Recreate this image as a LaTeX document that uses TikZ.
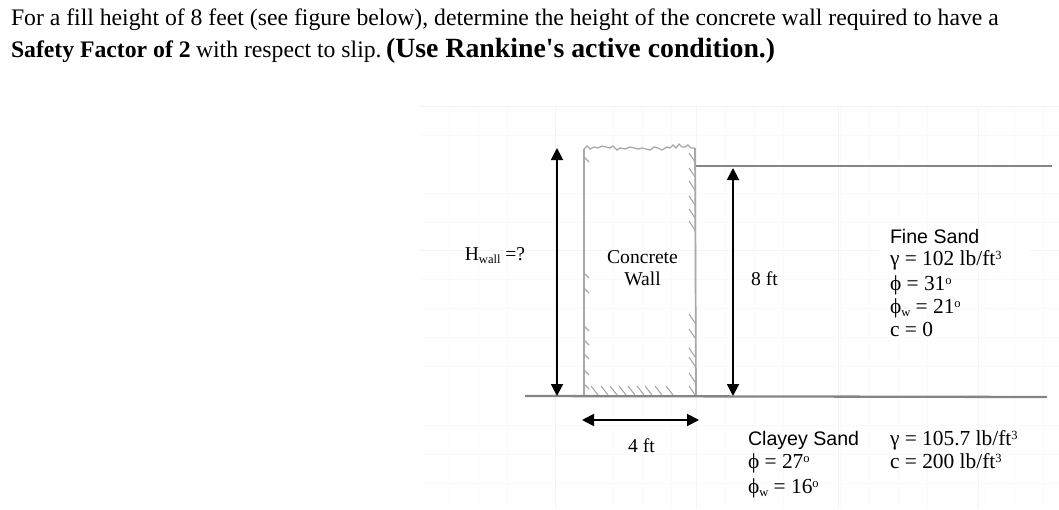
\documentclass[tikz,border=0pt]{standalone}
\usepackage{fontspec}
\usetikzlibrary{arrows.meta}
\setmainfont{Liberation Serif}
\newfontfamily\armfont{Liberation Sans}
\newfontfamily\plainserif{Liberation Serif}
\definecolor{wallgray}{gray}{0.66}
\definecolor{groundgray}{gray}{0.52}
\definecolor{gridgray}{gray}{0.955}
\definecolor{gridfaint}{gray}{0.98}
\newcommand{\lowtext}[1]{\raisebox{-3pt}{\fontsize{12.5}{14}\selectfont #1}}
\newcommand{\hightext}[1]{\raisebox{5.5pt}{\fontsize{12.5}{14}\selectfont #1}}
\tikzset{
  x=1pt,y=-1pt,
  headline/.style={anchor=base west,inner sep=0pt,outer sep=0pt,font=\fontsize{23.7}{26}\selectfont},
  biglabel/.style={anchor=base west,inner sep=0pt,outer sep=0pt,font=\plainserif\fontsize{27.8}{30}\selectfont\bfseries},
  serifnote/.style={anchor=base,inner sep=0pt,outer sep=0pt,font=\fontsize{19.6}{22}\selectfont},
  sansnote/.style={anchor=base west,inner sep=0pt,outer sep=0pt,font=\armfont\fontsize{19.6}{22}\selectfont},
  soilnote/.style={anchor=base west,inner sep=0pt,outer sep=0pt,font=\fontsize{21.4}{24}\selectfont},
  dim/.style={line width=1.9pt,{Triangle[length=12pt,width=12pt]}-{Triangle[length=12pt,width=12pt]}},
  wallline/.style={draw=wallgray,line width=1.7pt},
  hatch/.style={draw=wallgray,line width=1.1pt},
  ground/.style={draw=groundgray,line width=2.3pt},
  gridmajor/.style={draw=gridgray,line width=.8pt},
  gridminor/.style={draw=gridfaint,line width=.6pt},
}
\begin{document}
\begin{tikzpicture}
\useasboundingbox (0,0) rectangle (1059,509);
% faint squared paper behind the sketch
\foreach \yy in {135,193,222,279,308,337,366,425,454,483} \draw[gridminor] (420,\yy) -- (1059,\yy);
\foreach \xx in {449,478,507,613,642,671,725,754,783,840,869,898,927,985,1014,1043} \draw[gridminor] (\xx,106) -- (\xx,509);
\foreach \xx in {555,696,838,978} \draw[gridmajor] (\xx,106) -- (\xx,509);
\draw[gridmajor] (420,106) -- (1059,106);
\draw[gridmajor] (420,250) -- (880,250);
\draw[gridmajor] (1030,250) -- (1059,250);
% wall
\coordinate (wtl) at (584,149);
\coordinate (wtr) at (695,148);
\coordinate (wbl) at (584,396);
\coordinate (wbr) at (696,396);
\draw[wallline] (wbl) -- (wtl);
\draw[wallline] (wtr) -- (wbr);
\draw[draw=wallgray,line width=1.3pt] (wtl) -- (587,146) -- (590,149) -- (594,147) -- (598,148) -- (602,146) -- (606,147) -- (610,148) -- (613,146) -- (617,150) -- (620,148) -- (625,149) -- (630,147) -- (634,148) -- (638,149) -- (642,148) -- (646,149) -- (650,150) -- (654,147) -- (658,148) -- (662,150) -- (667,147) -- (670,148) -- (673,145) -- (676,148) -- (679,144) -- (682,147) -- (685,147) -- (688,145) -- (691,148) -- (wtr);
\foreach \yy in {157,273,288,326,340,354,370,384} \draw[hatch] (584,\yy) -- (589,\yy+5);
\foreach \yy in {158,173,186,201,214,226,319,334,353,362,378,391} \draw[hatch] (689,\yy-5) -- (695,\yy+4);
\foreach \xx in {591,601,610,619,628,637,645,655,666} \draw[hatch] (\xx,386) -- (\xx+7,395);
% ground
\coordinate (gl) at (525,396);
\coordinate (gr) at (1047,397);
\coordinate (fl) at (696,166);
\coordinate (fr) at (1052,166);
\draw[ground] (gl) -- (gr);
\draw[ground] (fl) -- (fr);
% dimension arrows
\coordinate (ha) at (557,148);
\coordinate (hb) at (557,396);
\coordinate (fa) at (733,168);
\coordinate (fb) at (733,396);
\coordinate (wa) at (582,420);
\coordinate (wb) at (699,420);
\draw[dim] (ha) -- (hb);
\draw[dim] (fa) -- (fb);
\draw[dim] (wa) -- (wb);
% text
\node[headline] (line1) at (11,25) {For a fill height of 8 feet (see figure below), determine the height of the concrete wall required to have a};
\node[headline] (line2a) at (11,57) {\bfseries Safety Factor of 2};
\node[headline] (line2b) at (196,57) {with respect to slip.};
\node[biglabel] (line2c) at (386,57) {(Use Rankine's active condition.)};
\node[serifnote] (hw) at (495,260) {H\lowtext{wall} =?};
\node[serifnote] (c1) at (642.5,263) {Concrete};
\node[serifnote] (c2) at (642.5,285) {Wall};
\node[serifnote] (ef) at (764.5,285) {8 ft};
\node[serifnote] (ff) at (641.5,452) {4 ft};
\node[sansnote] (fine) at (890,243) {Fine Sand};
\node[soilnote] (f1) at (890,265) {γ = 102 lb/ft\hightext{3}};
\node[soilnote] (f2) at (890,290) {ϕ = 31\hightext{o}};
\node[soilnote] (f3) at (890,313) {ϕ\lowtext{w} = 21\hightext{o}};
\node[soilnote] (f4) at (890,336) {c = 0};
\node[sansnote] (clay) at (748,445) {Clayey Sand};
\node[soilnote] (c3) at (748,468) {ϕ = 27\hightext{o}};
\node[soilnote] (c4) at (748,493) {ϕ\lowtext{w} = 16\hightext{o}};
\node[soilnote] (s1) at (890,445) {γ = 105.7 lb/ft\hightext{3}};
\node[soilnote] (s2) at (890,468) {c = 200 lb/ft\hightext{3}};
\end{tikzpicture}
\end{document}
